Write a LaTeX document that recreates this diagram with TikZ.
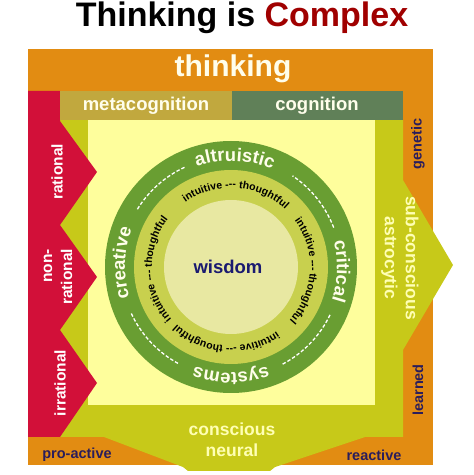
\documentclass[tikz,border=0pt]{standalone}
\usepackage{fontspec}
\setmainfont{Liberation Sans}
\usetikzlibrary{decorations.text}
\definecolor{frameorange}{HTML}{E28C12}
\definecolor{railred}{HTML}{D21039}
\definecolor{metagold}{HTML}{C1A83E}
\definecolor{cogngreen}{HTML}{608058}
\definecolor{bandlime}{HTML}{C7C919}
\definecolor{paleyellow}{HTML}{FEFE9C}
\definecolor{ringgreen}{HTML}{699E32}
\definecolor{ringolive}{HTML}{C8D04E}
\definecolor{corekhaki}{HTML}{E8E8A2}
\definecolor{titlered}{HTML}{A00000}
\definecolor{inkblue}{HTML}{2A1D5C}
\definecolor{wisdomblue}{HTML}{1A1A70}
\definecolor{paletext}{HTML}{FFFFB4}
\newcommand\ringbigfont{\bfseries\fontsize{18.5}{18.5}\selectfont}
\newcommand\ringsmallfont{\bfseries\fontsize{10.5}{10.5}\selectfont}

\begin{document}
\begin{tikzpicture}[x=1pt,y=1pt,
  sidelabel/.style={text=white,rotate=90,font=\bfseries\fontsize{15.5}{20}\selectfont,inner sep=0pt,align=center},
  banklabel/.style={text=inkblue,font=\bfseries\fontsize{14.5}{17}\selectfont,inner sep=0pt},
  limelabel/.style={text=paletext,font=\bfseries\fontsize{17.5}{21}\selectfont,inner sep=0pt,align=center},
  barlabel/.style={text=white!92!yellow,font=\bfseries\fontsize{18.5}{20}\selectfont,inner sep=0pt,anchor=base},
  outerword/.style={decorate,decoration={text along path,text align=center,text color=white!92!yellow}},
  innerword/.style={decorate,decoration={text along path,text align=center,text color=black}},
  ringdash/.style={draw=white,line width=1.3pt,dash pattern=on 3.5pt off 2pt}]
\useasboundingbox (0,0) rectangle (474,475);
\fill[frameorange] (28,10) rectangle (433,426);
\fill[bandlime] (60,355) -- (403,355) -- (403,295) -- (453,210) -- (403,125) -- (403,38)
  -- (365,38) -- (275,8) -- (270,4) -- (188,4) -- (183,8) -- (104,38) -- (60,38) -- cycle;
\fill[paleyellow] (88,70) rectangle (375,355);
\fill[railred] (28,384) -- (60,384) -- (60,354) -- (97,303) -- (60,250) -- (97,198)
  -- (60,145) -- (97,92) -- (60,38) -- (28,38) -- cycle;
\fill[metagold] (60,355) rectangle (232,384);
\fill[cogngreen] (232,355) rectangle (403,384);

\coordinate (c) at (231,208);
\fill[ringgreen] (c) circle[radius=126];
\fill[ringolive] (c) circle[radius=97];
\fill[corekhaki] (c) circle[radius=67];
\foreach \s/\e in {21/56,115/149,205/242,298/335}
  \draw[ringdash] (c) ++(\s:110) arc[start angle=\s,end angle=\e,radius=110];

\path[outerword,decoration={text={|\ringbigfont|altruistic}}] (c) ++(148:106) arc[start angle=148,delta angle=-120,radius=106];
\path[outerword,decoration={text={|\ringbigfont|critical}}] (c) ++(58:106) arc[start angle=58,delta angle=-120,radius=106];
\path[outerword,decoration={text={|\ringbigfont|systems}}] (c) ++(330:106) arc[start angle=330,delta angle=-120,radius=106];
\path[outerword,decoration={text={|\ringbigfont|creative}}] (c) ++(238:106) arc[start angle=238,delta angle=-120,radius=106];
\path[innerword,decoration={text={|\ringsmallfont|intuitive --- thoughtful}}] (c) ++(171:79) arc[start angle=171,delta angle=-170,radius=79];
\path[innerword,decoration={text={|\ringsmallfont|intuitive --- thoughtful}}] (c) ++(82:79) arc[start angle=82,delta angle=-170,radius=79];
\path[innerword,decoration={text={|\ringsmallfont|intuitive --- thoughtful}}] (c) ++(351:79) arc[start angle=351,delta angle=-170,radius=79];
\path[innerword,decoration={text={|\ringsmallfont|intuitive --- thoughtful}}] (c) ++(267:79) arc[start angle=267,delta angle=-170,radius=79];

\node[font=\bfseries\fontsize{34}{34}\selectfont,anchor=base,inner sep=0pt] (title) at (242,448) {Thinking is \textcolor{titlered}{Complex}};
\node[barlabel,font=\bfseries\fontsize{30}{30}\selectfont] (thinking) at (233,398) {thinking};
\node[barlabel] (meta) at (146,364) {metacognition};
\node[barlabel] (cogn) at (317,364) {cognition};
\node[sidelabel] (rational) at (57,303) {rational};
\node[sidelabel,align=right] (nonrational) at (58,198) {non-\\rational};
\node[sidelabel] (irrational) at (60,92) {irrational};
\node[banklabel,rotate=90] (genetic) at (418,331) {genetic};
\node[banklabel,rotate=90] (learned) at (418,85) {learned};
\node[limelabel,rotate=-90] (subconscious) at (400,217) {sub-conscious\\astrocytic};
\node[limelabel] (conscious) at (232,35) {conscious\\neural};
\node[banklabel] (proactive) at (77,20) {pro-active};
\node[banklabel] (reactive) at (374,20) {reactive};
\node[font=\bfseries\fontsize{18.5}{18.5}\selectfont,text=wisdomblue,inner sep=0pt] (wisdom) at (228,208) {wisdom};
\end{tikzpicture}
\end{document}
